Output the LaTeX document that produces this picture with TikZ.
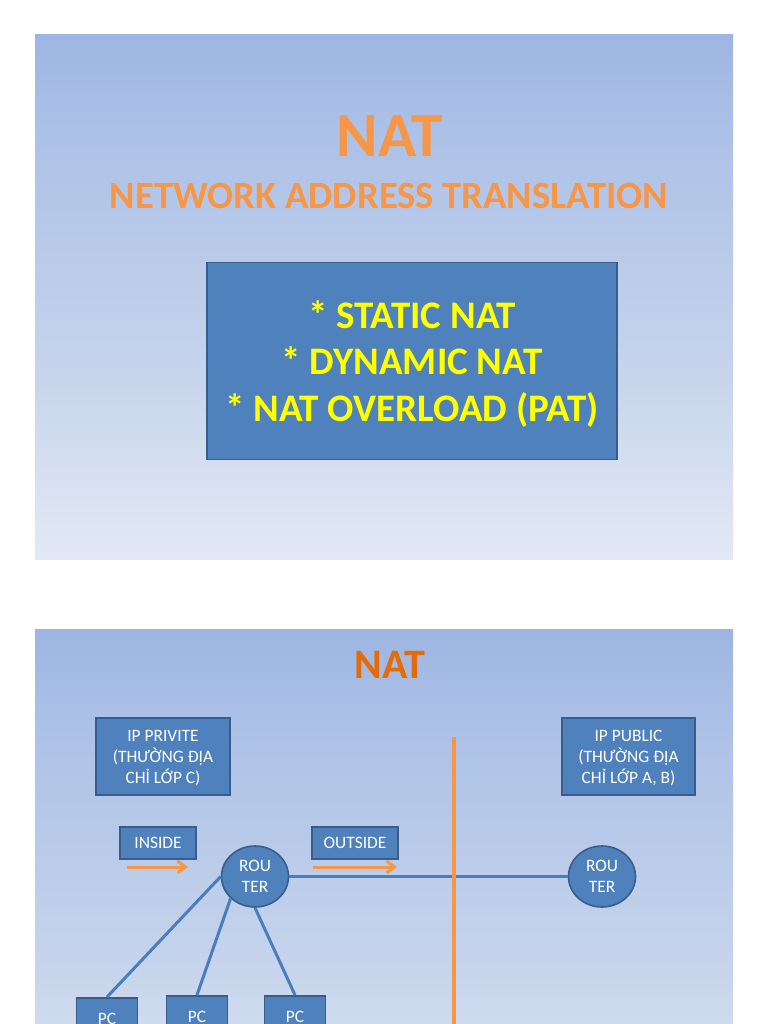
\documentclass[tikz,border=0pt]{standalone}
\usepackage{fontspec}
\setmainfont{Carlito}
\usetikzlibrary{shapes.geometric,arrows.meta}
\definecolor{boxblue}{RGB}{79,129,189}
\definecolor{boxedge}{RGB}{56,93,138}
\definecolor{linkblue}{RGB}{74,126,187}
\definecolor{orangeA}{RGB}{247,150,70}
\definecolor{orangeB}{RGB}{227,108,9}
\definecolor{yellowA}{RGB}{255,255,0}
\pgfdeclareverticalshading{slidebg}{100bp}{
 rgb(0bp)=(0.886,0.914,0.961);
 rgb(25bp)=(0.886,0.914,0.961);
 rgb(31bp)=(0.855,0.886,0.949);
 rgb(42bp)=(0.780,0.835,0.925);
 rgb(66bp)=(0.675,0.757,0.906);
 rgb(75bp)=(0.616,0.710,0.886);
 rgb(100bp)=(0.616,0.710,0.886)}
\tikzset{
 slide/.style={shading=slidebg,draw=none},
 bluebox/.style={rectangle,draw=boxedge,fill=boxblue,line width=1.6pt,inner sep=0pt,align=center,text=white,font=\fontsize{17.4}{21}\selectfont},
 routernode/.style={ellipse,draw=boxedge,fill=boxblue,line width=1.6pt,inner sep=0pt,minimum width=67pt,minimum height=61pt,align=center,text=white,font=\fontsize{17.4}{21}\selectfont},
 link/.style={draw=linkblue,line width=3pt},
 orangeline/.style={draw=orangeA,line width=3.2pt},
 orangearrow/.style={draw=orangeA,line width=3pt,-{Straight Barb[length=8pt,width=12pt,line width=3pt]}},
}
\begin{document}
\begin{tikzpicture}[x=1pt,y=-1pt]
\useasboundingbox (0,0) rectangle (768,1024);
\clip (0,0) rectangle (768,1024);
\fill[white] (0,0) rectangle (768,1024);
\path[slide] (35,35) rectangle (733,559);
\path[slide] (35,629) rectangle (733,1153);
\node (t1) at (389.5,136.5) {\color{orangeA}\fontsize{63}{65}\selectfont\bfseries NAT};
\node (t2) at (389,195.5) {\color{orangeA}\fontsize{38.6}{42}\selectfont\bfseries NETWORK ADDRESS TRANSLATION};
\node[bluebox,minimum width=410pt,minimum height=197pt,text=yellowA,font=\fontsize{39}{46.5}\selectfont\bfseries] (menu) at (412,361) {\rule{0pt}{33pt}* STATIC NAT\\* DYNAMIC NAT\\* NAT OVERLOAD (PAT)};
\node (t3) at (390,665) {\color{orangeB}\fontsize{42}{44}\selectfont\bfseries NAT};
\node[bluebox,minimum width=133.5pt,minimum height=77.5pt] (priv) at (163,756.5) {\rule{0pt}{14.5pt}IP PRIVITE\\(THƯỜNG ĐỊA\\CHỈ LỚP C)};
\node[bluebox,minimum width=133.5pt,minimum height=77.5pt] (pub) at (628.5,756.5) {\rule{0pt}{14.5pt}IP PUBLIC\\(THƯỜNG ĐỊA\\CHỈ LỚP A, B)};
\node[bluebox,minimum width=76pt,minimum height=32pt] (inside) at (158,843) {INSIDE};
\node[bluebox,minimum width=86pt,minimum height=32pt] (outside) at (355,843) {OUTSIDE};
\node[routernode] (r1) at (255,876.5) {ROU\\TER};
\node[routernode] (r2) at (602,876.5) {ROU\\TER};
\node[bluebox,minimum width=61pt,minimum height=42pt,anchor=north] (pc1) at (107,997) {PC};
\node[bluebox,minimum width=61pt,minimum height=42pt,anchor=north] (pc2) at (197,995) {PC};
\node[bluebox,minimum width=61pt,minimum height=42pt,anchor=north] (pc3) at (295,995) {PC};
\coordinate (vtop) at (454,737);
\coordinate (vbot) at (454,1030);
\coordinate (ia) at (127,867);
\coordinate (ib) at (188,867);
\coordinate (oa) at (313,867);
\coordinate (ob) at (397,867);
\draw[link] (r1.east) -- (r2.west);
\draw[link] (r1.west) -- (pc1.north);
\draw[link] (r1.222) -- (pc2.north);
\draw[link] (r1.south) -- (pc3.north);
\draw[orangeline] (vtop) -- (vbot);
\draw[orangearrow] (ia) -- (ib);
\draw[orangearrow] (oa) -- (ob);
\end{tikzpicture}
\end{document}
